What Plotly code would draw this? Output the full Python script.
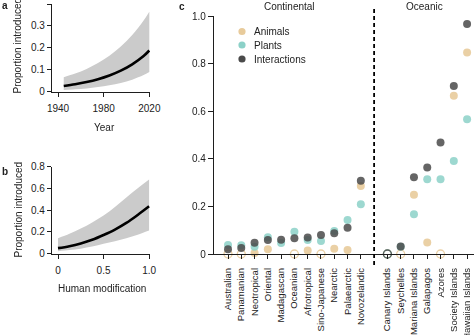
import plotly.graph_objects as go

# ---------------- data ----------------
# panel a: proportion introduced over time (mean and interval)
years = [1945, 1955, 1965, 1975, 1985, 1995, 2005, 2015, 2020]
year_mean = [0.026, 0.034, 0.044, 0.057, 0.074, 0.096, 0.125, 0.163, 0.188]
year_upper = [0.066, 0.083, 0.104, 0.131, 0.164, 0.206, 0.259, 0.325, 0.365]
year_lower = [0.008, 0.011, 0.015, 0.021, 0.029, 0.040, 0.055, 0.076, 0.090]

# panel b: proportion introduced vs human modification
hm = [0, 0.125, 0.25, 0.375, 0.5, 0.625, 0.75, 0.875, 1.0]
hm_mean = [0.052, 0.070, 0.095, 0.128, 0.172, 0.222, 0.283, 0.356, 0.435]
hm_upper = [0.143, 0.184, 0.231, 0.287, 0.350, 0.430, 0.515, 0.600, 0.680]
hm_lower = [0.024, 0.034, 0.047, 0.066, 0.091, 0.114, 0.142, 0.175, 0.213]

# panel c: proportion introduced per region
continental = ["Australian", "Panamanian", "Neotropical", "Oriental", "Madagascan",
               "Oceanian", "Afrotropical", "Sino-Japanese", "Nearctic",
               "Palaearctic", "Novozelandic"]
oceanic = ["Canary Islands", "Seychelles", "Mariana Islands", "Galapagos",
           "Azores", "Society Islands", "Hawaiian Islands"]

animals_cont = [0, 0, 0.004, 0.020, None, 0, 0.015, 0, 0.022, 0.017, 0.286]
plants_cont = [0.038, 0.037, 0.030, 0.070, 0.046, 0.094, 0.059, 0.055, 0.097, 0.143, 0.209]
inter_cont = [0.020, 0.025, 0.047, 0.059, 0.060, 0.066, 0.069, 0.080, 0.087, 0.110, 0.308]

animals_ocean = [0, 0, 0.249, 0.048, 0, 0.665, 0.847]
plants_ocean = [0, 0.030, 0.167, 0.314, 0.314, 0.391, 0.566]
inter_ocean = [0, 0.031, 0.322, 0.363, 0.468, 0.706, 0.966]

c_animals = "#E8CB9B"
c_plants = "#8CD1C8"
c_inter = "#4A4A4A"
band_grey = "#CBCBCB"
ink = "#1E1E1E"
FONT = "Liberation Sans, Arial, Helvetica, sans-serif"

W, H = 474, 335


def px(x):
    return x / W


def py(y):
    return (H - y) / H


# category positions: continental, one gap slot, oceanic
pos_cont = list(range(len(continental)))
gap = len(continental)
pos_ocean = [gap + 1 + i for i in range(len(oceanic))]
positions = pos_cont + pos_ocean
names = continental + oceanic

fig = go.Figure()

# ---- panel a ----
fig.add_trace(go.Scatter(x=years, y=year_upper, mode="lines", line=dict(width=0, shape="spline"),
                         hoverinfo="skip", showlegend=False, xaxis="x", yaxis="y"))
fig.add_trace(go.Scatter(x=years, y=year_lower, mode="lines", line=dict(width=0, shape="spline"),
                         fill="tonexty", fillcolor=band_grey, hoverinfo="skip",
                         showlegend=False, xaxis="x", yaxis="y"))
fig.add_trace(go.Scatter(x=years, y=year_mean, mode="lines",
                         line=dict(color="black", width=2.6, shape="spline"),
                         showlegend=False, xaxis="x", yaxis="y"))

# ---- panel b ----
fig.add_trace(go.Scatter(x=hm, y=hm_upper, mode="lines", line=dict(width=0, shape="spline"),
                         hoverinfo="skip", showlegend=False, xaxis="x2", yaxis="y2"))
fig.add_trace(go.Scatter(x=hm, y=hm_lower, mode="lines", line=dict(width=0, shape="spline"),
                         fill="tonexty", fillcolor=band_grey, hoverinfo="skip",
                         showlegend=False, xaxis="x2", yaxis="y2"))
fig.add_trace(go.Scatter(x=hm, y=hm_mean, mode="lines",
                         line=dict(color="black", width=2.6, shape="spline"),
                         showlegend=False, xaxis="x2", yaxis="y2"))


# ---- panel c ----
def region_trace(name, vals, color, opacity):
    xs, ys, syms, lw = [], [], [], []
    for p, v in zip(positions, vals):
        if v is None:
            continue
        xs.append(p)
        ys.append(v)
        syms.append("circle-open" if v == 0 else "circle")
        lw.append(1.3 if v == 0 else 0)
    return go.Scatter(
        x=xs, y=ys, mode="markers", name=name, showlegend=False,
        cliponaxis=False, opacity=opacity,
        marker=dict(size=8, color=color, symbol=syms,
                    line=dict(color=color, width=lw)),
        xaxis="x3", yaxis="y3")


fig.add_trace(region_trace("Animals", animals_cont + animals_ocean, c_animals, 0.9))
fig.add_trace(region_trace("Plants", plants_cont + plants_ocean, c_plants, 0.85))
fig.add_trace(region_trace("Interactions", inter_cont + inter_ocean, c_inter, 0.85))

axis_common = dict(showline=True, linecolor=ink, linewidth=1.4, ticks="outside",
                   ticklen=4, tickwidth=1.1, tickcolor=ink, showgrid=False,
                   zeroline=False, automargin=False,
                   tickfont=dict(size=10, color="#222", family=FONT))

fig.update_layout(
    width=W, height=H, margin=dict(l=0, r=0, t=0, b=0),
    paper_bgcolor="white", plot_bgcolor="white",
    font=dict(family=FONT, size=10, color="#222"),
    xaxis=dict(domain=[px(52), px(150)], range=[1934.7, 2020.6],
               tickvals=[1940, 1980, 2020], anchor="y", ticklabelstandoff=3, **axis_common),
    yaxis=dict(domain=[py(91.7), py(4)], range=[0, 0.4],
               tickvals=[0, 0.1, 0.2, 0.3, 0.4], ticktext=["0", "0.1", "0.2", "0.3", "0.4"],
               anchor="x", **axis_common),
    xaxis2=dict(domain=[px(52), px(150)], range=[-0.066, 1.01],
                tickvals=[0, 0.5, 1.0], ticktext=["0", "0.5", "1.0"], anchor="y2",
                ticklabelstandoff=3, **axis_common),
    yaxis2=dict(domain=[py(253.8), py(166.5)], range=[0, 0.8],
                tickvals=[0, 0.2, 0.4, 0.6, 0.8], ticktext=["0", "0.2", "0.4", "0.6", "0.8"],
                anchor="x2", **axis_common),
    xaxis3=dict(domain=[px(214), 1.0], range=[-1.054, 18.52],
                tickvals=positions, ticktext=names, tickangle=-90, anchor="y3",
                ticklabelstandoff=5,
                **{**axis_common, "tickfont": dict(size=9.5, color="#222", family=FONT)}),
    yaxis3=dict(domain=[py(254), py(16)], range=[0, 1.0],
                tickvals=[0, 0.2, 0.4, 0.6, 0.8, 1.0],
                ticktext=["0", "0.2", "0.4", "0.6", "0.8", "1.0"], anchor="x3",
                **{**axis_common, "ticklen": 5}),
)

# divider between continental and oceanic regions
fig.add_shape(type="line", xref="x3", yref="paper", x0=gap, x1=gap,
              y0=py(265), y1=py(9), line=dict(color="black", width=1.8, dash="4px,3px"))

annotations = [
    dict(text="<b>a</b>", x=px(5), y=py(6)),
    dict(text="<b>b</b>", x=px(5), y=py(171)),
    dict(text="<b>c</b>", x=px(182), y=py(7)),
    dict(text="Proportion introduced", x=px(17.5), y=py(46), textangle=-90),
    dict(text="Year", x=px(104), y=py(128)),
    dict(text="Proportion introduced", x=px(17.5), y=py(210), textangle=-90),
    dict(text="Human modification", x=px(102), y=py(288)),
    dict(text="Continental", x=px(289), y=py(6.5)),
    dict(text="Oceanic", x=px(424), y=py(6.5)),
]
for a in annotations:
    fig.add_annotation(xref="paper", yref="paper", showarrow=False,
                       xanchor="center", yanchor="middle",
                       font=dict(size=10, family=FONT, color="#222"), **a)

# legend for panel c
for label, color, ly in [("Animals", c_animals, 31.5), ("Plants", c_plants, 45),
                         ("Interactions", c_inter, 59)]:
    fig.add_shape(type="circle", xref="paper", yref="paper",
                  xsizemode="pixel", ysizemode="pixel",
                  xanchor=px(242), yanchor=py(ly), x0=-3.6, x1=3.6, y0=-3.6, y1=3.6,
                  fillcolor=color, line=dict(width=0))
    fig.add_annotation(xref="paper", yref="paper", x=px(252), y=py(ly), text=label,
                       showarrow=False, xanchor="left", yanchor="middle",
                       font=dict(size=10, family=FONT, color="#222"))

fig.write_html("out.html")
